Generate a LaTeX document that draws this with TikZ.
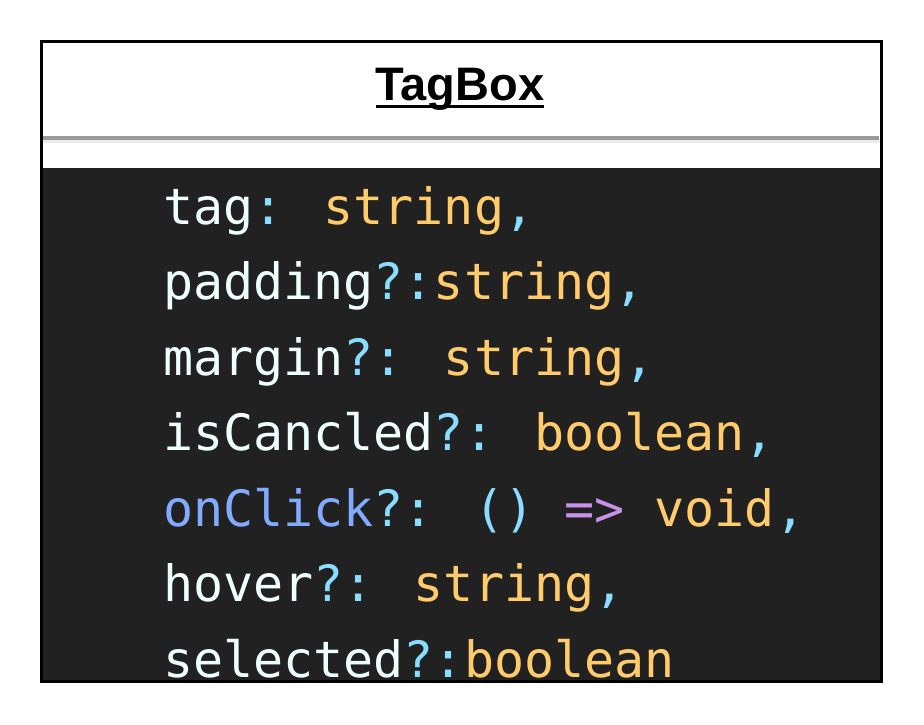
\documentclass[tikz,border=0pt]{standalone}
\usepackage{fontspec}
\setsansfont{Liberation Sans}
\newfontfamily\codefont{DejaVu Sans Mono}

\definecolor{codebg}{HTML}{212121}
\definecolor{plain}{HTML}{EEFFFF}
\definecolor{punct}{HTML}{89DDFF}
\definecolor{typ}{HTML}{FFCB6B}
\definecolor{fname}{HTML}{82AAFF}
\definecolor{oper}{HTML}{C792EA}
\definecolor{sepgray}{HTML}{9A9A9A}
\definecolor{seplight}{HTML}{EBEBEB}

\newcommand{\pun}[1]{\textcolor{punct}{#1}}
\newcommand{\ty}[1]{\textcolor{typ}{#1}}

\begin{document}
\begin{tikzpicture}[x=1pt,y=-1pt,
    codeline/.style={anchor=base west,inner sep=0pt,outer sep=0pt,text=plain,
      font=\codefont\fontsize{50}{60}\selectfont},
    heading/.style={anchor=base,inner sep=0pt,outer sep=0pt,
      font=\sffamily\bfseries\fontsize{47}{56}\selectfont}]
    \useasboundingbox (0,0) rectangle (924,724);
    \fill[white] (0,0) rectangle (924,724);

    % header part
    \node[heading] (title) at (460,100) {TagBox};
    \draw[line width=3pt] ([yshift=-6pt]title.base west) -- ([yshift=-6pt]title.base east);
    \fill[sepgray] (41,136) rectangle (879,140);
    \fill[seplight] (41,140) rectangle (879,143);

    % code part
    \fill[codebg] (40,168) rectangle (881,682);
    \pgfmathsetmacro{\dy}{75.5}
    \begin{scope}
      \clip (40,168) rectangle (881,680);
      \node[codeline] (tag) at (163,224) {tag\pun{:} \ty{string}\pun{,}};
      \node[codeline] (padding) at (163,{224+\dy}) {padding\pun{?:}\ty{string}\pun{,}};
      \node[codeline] (margin) at (163,{224+2*\dy}) {margin\pun{?:} \ty{string}\pun{,}};
      \node[codeline] (cancel) at (163,{224+3*\dy}) {isCancled\pun{?:} \ty{boolean}\pun{,}};
      \node[codeline] (click) at (163,{224+4*\dy}) {\textcolor{fname}{onClick}\pun{?:} \pun{()} \textcolor{oper}{=>} \ty{void}\pun{,}};
      \node[codeline] (hover) at (163,{224+5*\dy}) {hover\pun{?:} \ty{string}\pun{,}};
      \node[codeline] (selected) at (163,{224+6*\dy}) {selected\pun{?:}\ty{boolean}};
    \end{scope}

    \draw[line width=3pt] (41.5,41.5) rectangle (881.5,681.5);
  \end{tikzpicture}
\end{document}
